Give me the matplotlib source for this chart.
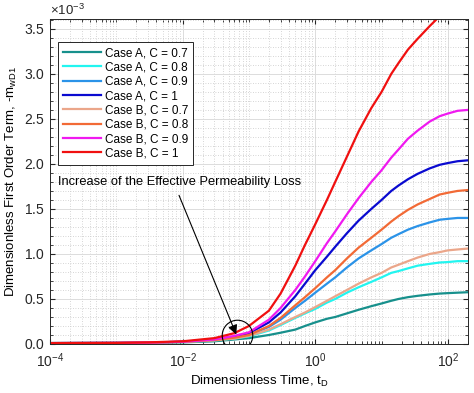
import numpy as np
import matplotlib.pyplot as plt
from matplotlib.ticker import LogLocator, MultipleLocator, FixedLocator, ScalarFormatter, NullFormatter

plt.rcParams['font.family'] = ['Liberation Sans', 'DejaVu Sans']
plt.rcParams['mathtext.fontset'] = 'custom'
plt.rcParams['mathtext.rm'] = 'Liberation Sans'
plt.rcParams['mathtext.it'] = 'Liberation Sans'

# dimensionless time samples
tD = [1e-4, 1e-3, 3e-3, 1e-2, 0.03, 0.06, 0.1, 0.2, 0.3, 0.5, 0.7, 1, 1.5, 2, 3, 4.5,
      7, 10, 14, 18, 25, 35, 53, 75, 100, 140, 200]

# first order term, units of 1e-3
caseA_07 = [0.01, 0.011, 0.013, 0.018, 0.03, 0.05, 0.065, 0.10, 0.125, 0.16, 0.20, 0.24, 0.28, 0.30,
            0.34, 0.38, 0.42, 0.45, 0.48, 0.50, 0.52, 0.535, 0.55, 0.56, 0.565, 0.57, 0.575]
caseA_08 = [0.01, 0.012, 0.015, 0.022, 0.04, 0.06, 0.085, 0.15, 0.21, 0.29, 0.34, 0.39, 0.46, 0.50,
            0.57, 0.63, 0.69, 0.74, 0.79, 0.81, 0.84, 0.87, 0.89, 0.905, 0.91, 0.92, 0.92]
caseA_09 = [0.01, 0.012, 0.016, 0.024, 0.045, 0.07, 0.10, 0.19, 0.27, 0.40, 0.48, 0.57, 0.67, 0.74,
            0.85, 0.95, 1.04, 1.11, 1.18, 1.22, 1.27, 1.31, 1.35, 1.38, 1.39, 1.40, 1.40]
caseA_10 = [0.01, 0.012, 0.016, 0.025, 0.05, 0.08, 0.12, 0.24, 0.35, 0.53, 0.67, 0.82, 0.97, 1.08,
            1.23, 1.37, 1.50, 1.60, 1.70, 1.76, 1.83, 1.89, 1.95, 1.99, 2.01, 2.03, 2.04]
caseB_07 = [0.01, 0.012, 0.015, 0.022, 0.04, 0.06, 0.09, 0.16, 0.22, 0.30, 0.35, 0.41, 0.48, 0.53,
            0.60, 0.67, 0.74, 0.79, 0.85, 0.88, 0.92, 0.96, 1.00, 1.02, 1.04, 1.05, 1.06]
caseB_08 = [0.01, 0.012, 0.016, 0.024, 0.045, 0.07, 0.10, 0.20, 0.29, 0.43, 0.52, 0.62, 0.74, 0.82,
            0.95, 1.07, 1.18, 1.27, 1.36, 1.42, 1.49, 1.55, 1.61, 1.66, 1.68, 1.70, 1.71]
caseB_09 = [0.01, 0.012, 0.016, 0.025, 0.05, 0.09, 0.13, 0.27, 0.40, 0.60, 0.75, 0.92, 1.12, 1.25,
            1.44, 1.62, 1.80, 1.93, 2.07, 2.16, 2.28, 2.37, 2.47, 2.53, 2.56, 2.59, 2.60]
caseB_10 = [0.01, 0.012, 0.018, 0.03, 0.065, 0.12, 0.20, 0.37, 0.56, 0.87, 1.10, 1.33, 1.60, 1.80,
            2.08, 2.36, 2.62, 2.80, 3.00, 3.12, 3.27, 3.39, 3.53, 3.64, 3.72, 3.82, 3.90]

series = [caseA_07, caseA_08, caseA_09, caseA_10, caseB_07, caseB_08, caseB_09, caseB_10]
labels = ['Case A, C = 0.7', 'Case A, C = 0.8', 'Case A, C = 0.9', 'Case A, C = 1',
          'Case B, C = 0.7', 'Case B, C = 0.8', 'Case B, C = 0.9', 'Case B, C = 1']
colors = ['#17908c', '#22f5f0', '#2b93e8', '#0a0ad0',
          '#eba68a', '#f26a36', '#f019f0', '#f01010']

fig = plt.figure(figsize=(4.74, 3.93), dpi=100)
ax = fig.add_axes([0.1055, 0.1247, 0.8815, 0.827])

for y, lab, c in zip(series, labels, colors):
    ax.plot(tD, np.array(y) * 1e-3, color=c, lw=1.6, label=lab)

ax.set_xscale('log')
ax.set_xlim(1e-4, 200)
ax.set_ylim(0, 3.61e-3)

ax.xaxis.set_major_locator(FixedLocator([1e-4, 1e-2, 1, 1e2]))
ax.xaxis.set_minor_locator(LogLocator(base=10, subs=np.arange(1, 10), numticks=20))
ax.xaxis.set_minor_formatter(NullFormatter())
ax.yaxis.set_major_locator(MultipleLocator(0.5e-3))
ax.yaxis.set_minor_locator(MultipleLocator(0.1e-3))
fmt = ScalarFormatter(useMathText=True)
fmt.set_powerlimits((-2, 2))
ax.yaxis.set_major_formatter(fmt)
ax.yaxis.get_offset_text().set_fontsize(9.5)

ax.grid(which='major', color='#dcdcdc', lw=0.7, ls='-')
ax.grid(which='minor', color='#c8c8c8', lw=0.6, ls=(0, (1, 2)))
ax.set_axisbelow(True)
ax.tick_params(which='both', direction='in', top=True, right=True, labelsize=10, colors='#262626')
ax.tick_params(which='major', length=3.5)
ax.tick_params(which='minor', length=2)
ax.tick_params(axis='x', pad=5)
for s in ax.spines.values():
    s.set_color('#262626')
    s.set_linewidth(0.7)

ax.set_xlabel('Dimensionless Time, t$_\\mathrm{D}$', fontsize=9.5, labelpad=3)
ax.set_ylabel('Dimensionless First Order Term, -m$_\\mathrm{wD1}$', fontsize=9.5, labelpad=4)

leg = ax.legend(loc='upper left', bbox_to_anchor=(0.018, 0.93), fontsize=8.5, handlelength=3.2,
                labelspacing=0.2, borderpad=0.45, handletextpad=0.35, borderaxespad=0,
                fancybox=False, framealpha=1)
leg.get_frame().set_edgecolor('#262626')
leg.get_frame().set_linewidth(0.7)

ax.text(1.32e-4, 1.80e-3, 'Increase of the Effective Permeability Loss', fontsize=9.3, va='center', ha='left')
ax.annotate('', xy=(0.0668, 0.077e-3), xytext=(8.5e-3, 1.68e-3),
            arrowprops=dict(arrowstyle='-|>', color='k', lw=0.8, mutation_scale=14))
ax.plot([0.0668], [0.1e-3], 'o', mfc='none', mec='k', mew=0.8, ms=22)

fig.savefig('out.png', dpi=100)
